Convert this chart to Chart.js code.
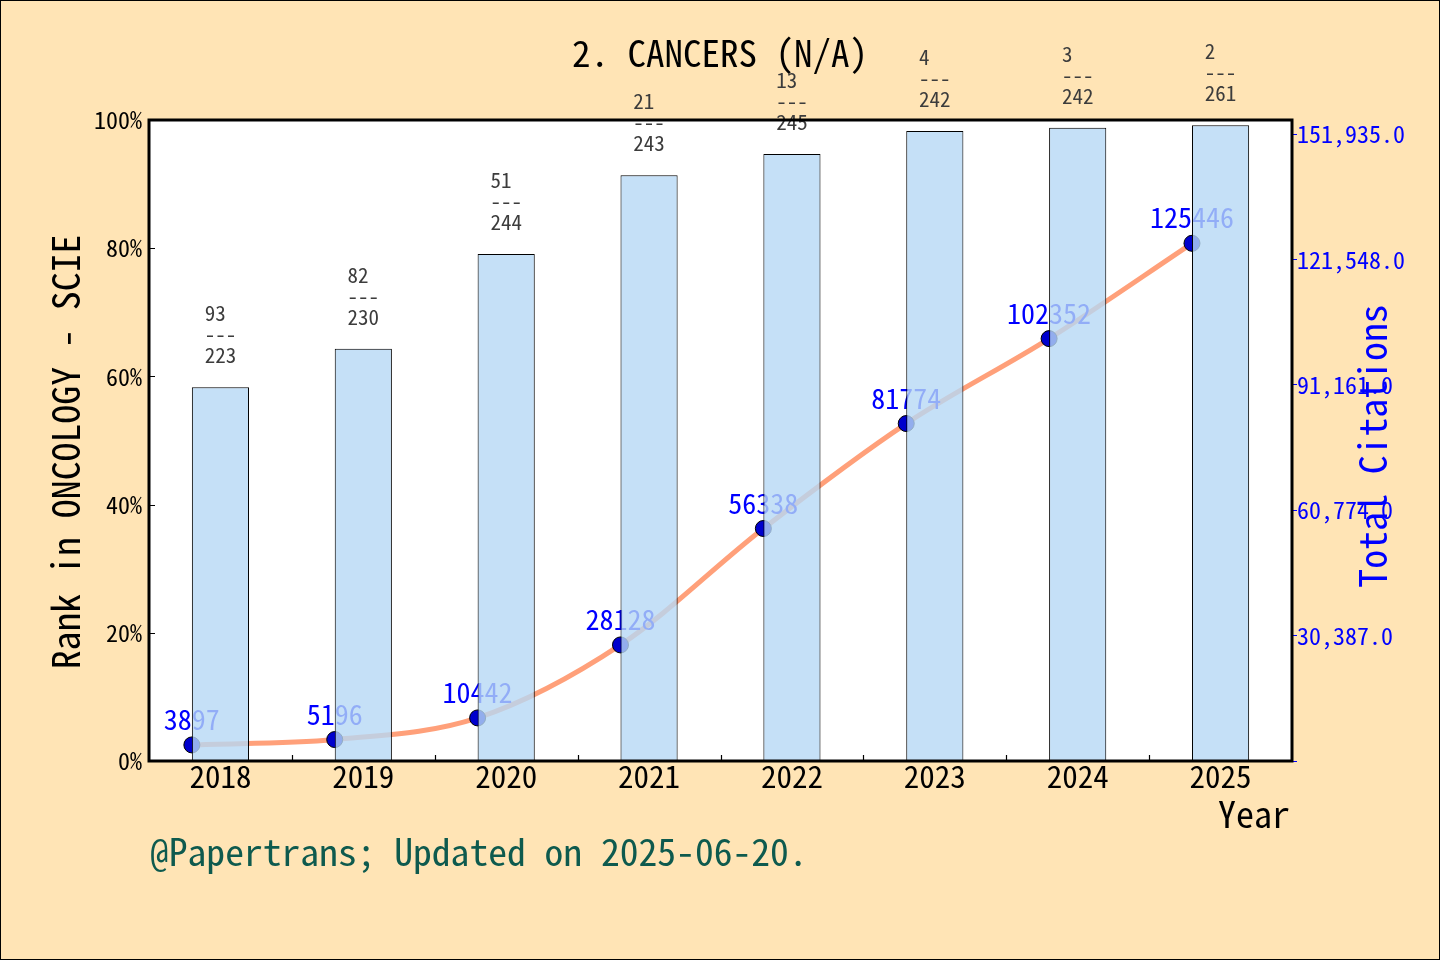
<!DOCTYPE html>
<html>
<head>
<meta charset="utf-8">
<script src="https://cdn.jsdelivr.net/npm/chart.js@4.4.1/dist/chart.umd.min.js"></script>
<style>
  html, body { margin: 0; padding: 0; background: #FFE4B5; }
  #wrap { width: 1440px; height: 960px; }
</style>
</head>
<body>
<div id="wrap"><canvas id="c" width="1440" height="960"></canvas></div>
<script>
// ---- data ----
const years = ['2018', '2019', '2020', '2021', '2022', '2023', '2024', '2025'];
const rankPosition = [93, 82, 51, 21, 13, 4, 3, 2];
const rankTotal = [223, 230, 244, 243, 245, 242, 242, 261];
const rankPercent = [58.3, 64.3, 79.1, 91.4, 94.7, 98.3, 98.8, 99.2];
const totalCitations = [3897, 5196, 10442, 28128, 56338, 81774, 102352, 125446];
const leftTicks = [0, 20, 40, 60, 80, 100];
const rightTicks = [0, 30387, 60774, 91161, 121548, 151935];

const titleText = '2. CANCERS (N/A)';
const leftTitle = 'Rank in ONCOLOGY - SCIE';
const rightTitle = 'Total Citations';
const xTitle = 'Year';
const footerText = '@Papertrans; Updated on 2025-06-20.';

const MONO = '"Noto Sans Mono CJK SC", "DejaVu Sans Mono", monospace';

const barData = years.map((y, i) => ({ x: i, y: rankPercent[i] }));
const lineData = years.map((y, i) => ({ x: i - 0.2, y: totalCitations[i] }));

const deco = {
  id: 'deco',
  beforeDraw(chart) {
    const { ctx, chartArea: a } = chart;
    ctx.save();
    ctx.fillStyle = '#FFE4B5';
    ctx.fillRect(0, 0, chart.width, chart.height);
    ctx.strokeStyle = '#000';
    ctx.lineWidth = 1;
    ctx.strokeRect(0.5, 0.5, chart.width - 1, chart.height - 1);
    ctx.fillStyle = '#ffffff';
    ctx.fillRect(a.left, a.top, a.right - a.left, a.bottom - a.top);
    ctx.restore();
  },
  afterDatasetDraw(chart, args) {
    if (args.index !== 1) return;
    const ctx = chart.ctx;
    ctx.save();
    ctx.font = '28px ' + MONO;
    ctx.fillStyle = '#0000ff';
    ctx.textAlign = 'center';
    ctx.textBaseline = 'alphabetic';
    args.meta.data.forEach((pt, i) => {
      ctx.fillText(String(totalCitations[i]), pt.x, pt.y - 15);
    });
    ctx.restore();
  },
  afterDatasetsDraw(chart) {
    const { ctx, chartArea: a, scales } = chart;
    ctx.save();
    // bar labels
    ctx.font = '21px ' + MONO;
    ctx.fillStyle = '#3c3c3c';
    ctx.textAlign = 'left';
    ctx.textBaseline = 'alphabetic';
    chart.getDatasetMeta(0).data.forEach((bar, i) => {
      const lines = [String(rankPosition[i]), '---', String(rankTotal[i])];
      const w = Math.max(...lines.map(l => ctx.measureText(l).width));
      const x0 = bar.x - w / 2;
      lines.forEach((l, k) => ctx.fillText(l, x0, bar.y - 24 - (2 - k) * 21));
    });
    // inward ticks
    ctx.strokeStyle = '#000';
    ctx.lineWidth = 1.2;
    ctx.beginPath();
    leftTicks.forEach(v => {
      const y = Math.round(scales.y.getPixelForValue(v)) + 0.5;
      ctx.moveTo(a.left, y); ctx.lineTo(a.left + 6, y);
    });
    for (let i = 0; i < years.length - 1; i++) {
      const x = Math.round(scales.x.getPixelForValue(i + 0.5)) + 0.5;
      ctx.moveTo(x, a.bottom); ctx.lineTo(x, a.bottom - 6);
    }
    ctx.stroke();
    // plot frame
    ctx.lineWidth = 3;
    ctx.strokeRect(a.left, a.top, a.right - a.left, a.bottom - a.top);
    ctx.restore();
  },
  afterDraw(chart) {
    const { ctx } = chart;
    ctx.save();
    ctx.fillStyle = '#000';
    ctx.font = '37px ' + MONO;
    ctx.textAlign = 'center';
    ctx.textBaseline = 'alphabetic';
    ctx.fillText(titleText, 720, 67);

    // left axis title
    ctx.save();
    ctx.translate(80, 452);
    ctx.rotate(-Math.PI / 2);
    ctx.font = '37.8px ' + MONO;
    ctx.fillStyle = '#000';
    ctx.textAlign = 'center';
    ctx.fillText(leftTitle, 0, 0);
    ctx.restore();

    // right axis title
    ctx.save();
    ctx.translate(1387, 446);
    ctx.rotate(-Math.PI / 2);
    ctx.font = '37.8px ' + MONO;
    ctx.fillStyle = '#0000ff';
    ctx.textAlign = 'center';
    ctx.fillText(rightTitle, 0, 0);
    ctx.restore();

    // x title
    ctx.font = '36px ' + MONO;
    ctx.fillStyle = '#000';
    ctx.textAlign = 'right';
    ctx.fillText(xTitle, 1290, 828);

    // footer
    ctx.font = '37.6px ' + MONO;
    ctx.fillStyle = '#0E5A4E';
    ctx.textAlign = 'left';
    ctx.fillText(footerText, 150, 866);
    ctx.restore();
  }
};

new Chart(document.getElementById('c'), {
  type: 'bar',
  data: {
    datasets: [
      {
        type: 'bar',
        label: 'Rank',
        data: barData,
        xAxisID: 'x',
        yAxisID: 'y',
        backgroundColor: 'rgba(182,216,245,0.8)',
        borderColor: '#000',
        borderWidth: 1,
        borderSkipped: false,
        barPercentage: 0.4,
        categoryPercentage: 1,
        order: 0
      },
      {
        type: 'line',
        label: 'Total Citations',
        data: lineData,
        xAxisID: 'x',
        yAxisID: 'y2',
        borderColor: '#FFA07A',
        borderWidth: 5,
        cubicInterpolationMode: 'monotone',
        pointRadius: 8,
        pointBackgroundColor: '#0000CD',
        pointBorderColor: '#000',
        pointBorderWidth: 1,
        clip: false,
        order: 1
      }
    ]
  },
  options: {
    responsive: false,
    animation: false,
    events: [],
    layout: { padding: { top: 120, left: 0, right: 0, bottom: 0 } },
    plugins: { legend: { display: false }, title: { display: false }, tooltip: { enabled: false } },
    scales: {
      x: {
        type: 'linear',
        position: 'bottom',
        min: -0.5,
        max: 7.5,
        offset: false,
        grid: { display: false },
        border: { display: false },
        afterBuildTicks: s => { s.ticks = years.map((y, i) => ({ value: i })); },
        afterFit: s => { s.height = 199; },
        ticks: {
          autoSkip: false,
          maxRotation: 0,
          padding: -11,
          color: '#000',
          font: { family: MONO, size: 31 },
          callback: v => years[v]
        }
      },
      y: {
        type: 'linear',
        position: 'left',
        min: 0,
        max: 100,
        grid: { display: false },
        border: { display: false },
        afterBuildTicks: s => { s.ticks = leftTicks.map(v => ({ value: v })); },
        afterFit: s => { s.width = 149; },
        ticks: {
          padding: -1,
          color: '#000',
          font: { family: MONO, size: 24 },
          callback: v => v + '%'
        }
      },
      y2: {
        type: 'linear',
        position: 'right',
        min: 0,
        max: 155330,
        grid: { display: true, drawOnChartArea: false, drawTicks: true, tickLength: 5, tickColor: '#0000ff', tickWidth: 1 },
        border: { display: false },
        afterBuildTicks: s => { s.ticks = rightTicks.map(v => ({ value: v })); },
        afterFit: s => { s.width = 148; },
        ticks: {
          padding: 0,
          color: '#0000ff',
          font: { family: MONO, size: 24 },
          callback: v => v === 0 ? '' : v.toLocaleString('en-US', { minimumFractionDigits: 1, maximumFractionDigits: 1 })
        }
      }
    }
  },
  plugins: [deco]
});
</script>
</body>
</html>
